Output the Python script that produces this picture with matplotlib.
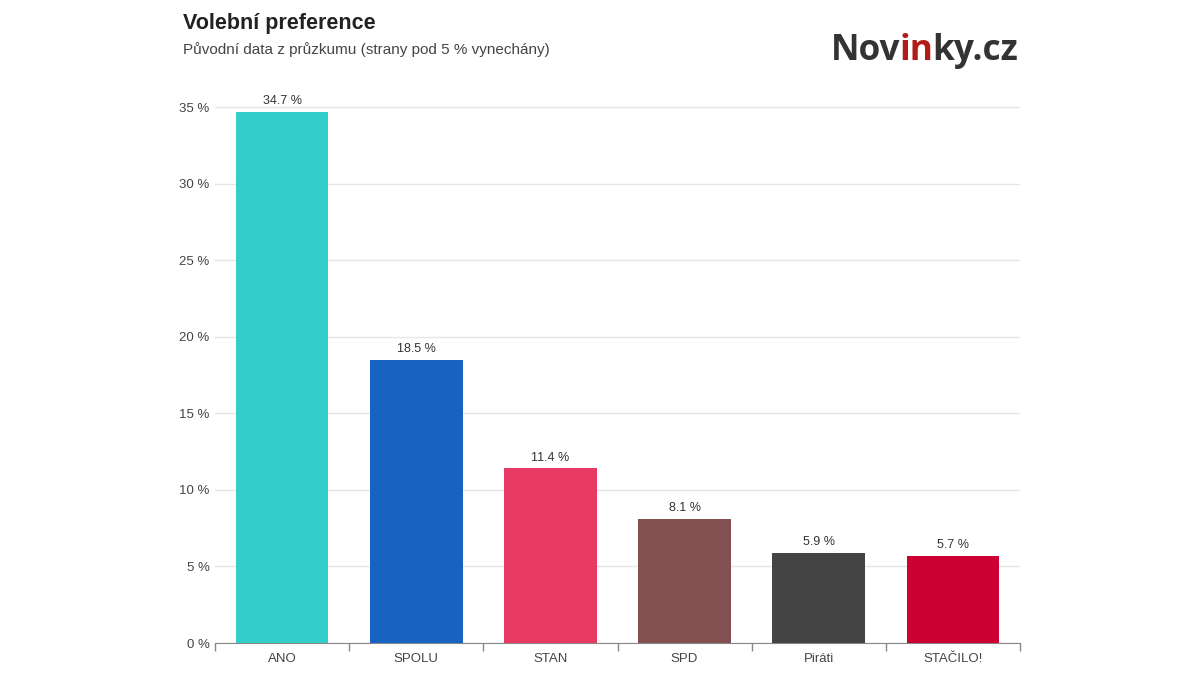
import matplotlib
matplotlib.use("Agg")
import matplotlib.pyplot as plt
from matplotlib.ticker import FuncFormatter, FixedLocator

categories = ["ANO", "SPOLU", "STAN", "SPD", "Piráti", "STAČILO!"]
values = [34.7, 18.5, 11.4, 8.1, 5.9, 5.7]
colors = ["#33cdca", "#1763bf", "#e83a64", "#825050", "#444444", "#cc0033"]
value_labels = ["34.7 %", "18.5 %", "11.4 %", "8.1 %", "5.9 %", "5.7 %"]

plt.rcParams['font.family'] = ['Liberation Sans', 'DejaVu Sans']

fig = plt.figure(figsize=(12, 6.75), dpi=100)
ax = fig.add_axes([215/1200, 32/675, 805/1200, (643-107)/675 * 35.6/35])

x = list(range(len(categories)))
ax.bar(x, values, width=0.69, color=colors, zorder=3)
for xi, v, lab in zip(x, values, value_labels):
    ax.annotate(lab, (xi, v), xytext=(0, 3.5), textcoords="offset points",
                ha="center", va="bottom", fontsize=9, color="#333333")

ax.set_xlim(-0.5, len(categories) - 0.5)
ax.set_ylim(0, 35.6)
ax.yaxis.set_major_locator(FixedLocator([0, 5, 10, 15, 20, 25, 30, 35]))
ax.yaxis.set_major_formatter(FuncFormatter(lambda v, p: f"{int(v)} %"))
ax.grid(axis="y", color="#e6e6e6", linewidth=1, zorder=0)
ax.set_xticks(x)
ax.set_xticklabels(categories)
ax.xaxis.set_minor_locator(FixedLocator([i - 0.5 for i in range(len(categories) + 1)]))
ax.tick_params(axis="x", which="major", length=0, pad=7.5, labelsize=9.5, labelcolor="#444444")
ax.tick_params(axis="x", which="minor", length=6, color="#888888", width=1)
ax.tick_params(axis="y", length=0, pad=4, labelsize=9.5, labelcolor="#444444")
for s in ["top", "right", "left"]:
    ax.spines[s].set_visible(False)
ax.spines["bottom"].set_color("#888888")

fig.text(183/1200, 1 - 24/675, "Volební preference", fontsize=15.5, fontweight="bold",
         color="#222222", ha="left", va="center")
fig.text(183/1200, 1 - 50/675, "Původní data z průzkumu (strany pod 5 % vynechány)",
         fontsize=11, color="#444444", ha="left", va="center")

# logo
fig.canvas.draw()
r = fig.canvas.get_renderer()
xpos = 831
parts = [("Nov", "#333333"), ("in", "#b31b1b"), ("ky.cz", "#333333")]
for txt, col in parts:
    t = fig.text(xpos/1200, 1 - 51/675, txt, fontsize=25.3, fontweight="bold",
                 family=["Open Sans", "DejaVu Sans"], color=col, ha="left", va="center")
    bb = t.get_window_extent(renderer=r)
    xpos += bb.width - 1

fig.savefig("out.png", dpi=100)
